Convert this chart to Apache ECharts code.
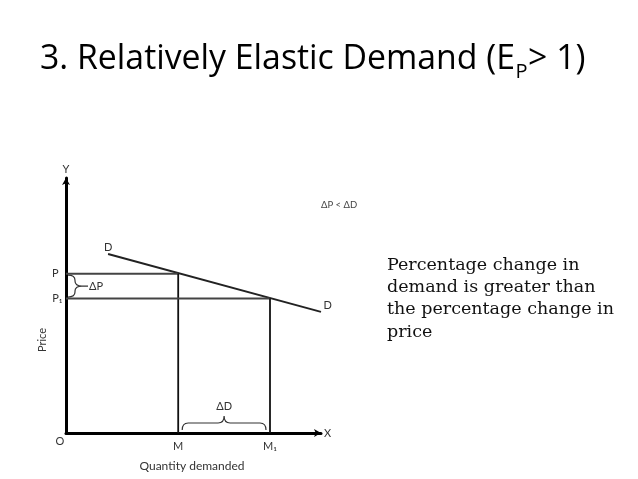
<!DOCTYPE html>
<html><head><meta charset="utf-8">
<script src="https://cdn.jsdelivr.net/npm/echarts@6/dist/echarts.min.js"></script>
<style>html,body{margin:0;padding:0;background:#fff}#c{width:638px;height:479px}</style>
</head><body><div id="c"></div>
<script>
// ---- data ----
const priceLabels = ['P', 'P\u2081'];
const prices = [62.5, 52.7];
const qtyLabels = ['M', 'M\u2081'];
const quantities = [44, 80];
const demandQ = [16.5, 100];
const demandP = [70.2, 47.5];
const demandLabels = ['D', 'D'];
const titleParts = ['3. Relatively Elastic Demand (E', 'P', '> 1)'];
const noteLines = ['Percentage change in', 'demand is greater than', 'the percentage change in', 'price'];

const chart = echarts.init(document.getElementById('c'), null, {renderer: 'canvas'});
const F = 'Lato, "DejaVu Sans", sans-serif';
const TF = '"Open Sans", Lato, sans-serif';
const TXT = '#333';

function lbl(text, position, distance, offset) {
  return {show: true, formatter: text, position: position, distance: distance, offset: offset || [0, 0],
          color: TXT, fontFamily: F, fontSize: 11};
}
const hidden = {symbol: 'circle', symbolSize: 1, itemStyle: {color: 'transparent'}, silent: true};

const series = [];
series.push(Object.assign({
  type: 'line', name: 'demand',
  data: demandQ.map((q, i) => ({value: [q, demandP[i]],
    label: i === 0 ? lbl(demandLabels[i], 'top', 1) : lbl(demandLabels[i], 'right', 2, [0, -6])})),
  lineStyle: {color: '#222', width: 2}
}, hidden));
prices.forEach((p, i) => {
  series.push(Object.assign({
    type: 'line', name: 'price' + i,
    data: [{value: [0, p], label: lbl(priceLabels[i], 'left', i === 0 ? 7 : 3)}, {value: [quantities[i], p]}],
    lineStyle: {color: '#444', width: 2}
  }, hidden));
  series.push(Object.assign({
    type: 'line', name: 'qty' + i,
    data: [{value: [quantities[i], 0], label: lbl(qtyLabels[i], 'bottom', 7)}, {value: [quantities[i], p]}],
    lineStyle: {color: '#111', width: 1.8}
  }, hidden));
});

// braces for ΔP and ΔD
series.push({
  type: 'custom', name: 'braces', silent: true,
  data: [[0], [1]],
  renderItem: function (params, api) {
    const st = {stroke: '#333', fill: null, lineWidth: 1.2};
    if (params.dataIndex === 0) {
      const a = api.coord([quantities[0], 0]), b = api.coord([quantities[1], 0]);
      const x0 = a[0] + 4, x1 = b[0] - 4, yb = a[1] - 3, h = 14, m = (x0 + x1) / 2, yh = yb - h / 2;
      const d = `M${x0} ${yb} Q${x0} ${yh} ${x0 + 6} ${yh} L${m - 6} ${yh} Q${m} ${yh} ${m} ${yb - h} ` +
                `Q${m} ${yh} ${m + 6} ${yh} L${x1 - 6} ${yh} Q${x1} ${yh} ${x1} ${yb}`;
      return {type: 'group', children: [
        {type: 'path', shape: {pathData: d}, style: st},
        {type: 'text', style: {text: '\u0394D', x: m, y: yb - h - 4, align: 'center', verticalAlign: 'bottom',
          font: '11px ' + F, fill: TXT}}
      ]};
    } else {
      const a = api.coord([0, prices[0]]), b = api.coord([0, prices[1]]);
      const ya = a[1] + 1.5, yb = b[1] - 1.5, x0 = a[0] + 2, w = 14, xh = x0 + w / 2, m = (ya + yb) / 2;
      const d = `M${x0} ${ya} Q${xh} ${ya} ${xh} ${ya + 5} L${xh} ${m - 5} Q${xh} ${m} ${x0 + w} ${m} ` +
                `Q${xh} ${m} ${xh} ${m + 5} L${xh} ${yb - 5} Q${xh} ${yb} ${x0} ${yb} M${x0 + w} ${m} L${x0 + w + 6} ${m}`;
      return {type: 'group', children: [
        {type: 'path', shape: {pathData: d}, style: st},
        {type: 'text', style: {text: '\u0394P', x: x0 + w + 7, y: m, align: 'left', verticalAlign: 'middle',
          font: '11px ' + F, fill: TXT}}
      ]};
    }
  }
});

const axisCommon = {
  type: 'value', min: 0, max: 100,
  axisLine: {show: true, onZero: false, symbol: ['none', 'arrow'], symbolSize: [6, 7],
             lineStyle: {color: '#000', width: 3}},
  axisTick: {show: false}, axisLabel: {show: false}, splitLine: {show: false},
  nameLocation: 'end', nameGap: 3, nameTextStyle: {color: TXT, fontFamily: F, fontSize: 11}
};

// title: main text + subscript, placed side by side using measured widths
const mainFont = '33.8px ' + TF, subFont = '20px ' + TF;
const mctx = document.createElement('canvas').getContext('2d');
mctx.font = mainFont; const w1 = mctx.measureText(titleParts[0]).width;
mctx.font = subFont; const w2 = mctx.measureText(titleParts[1]).width;
const tx = 40, mainY = 59.3, subY = 72;

chart.setOption({
  animation: false,
  backgroundColor: '#fff',
  grid: {left: 66, right: 317, top: 178, bottom: 46},
  xAxis: Object.assign({}, axisCommon, {name: 'X'}),
  yAxis: Object.assign({}, axisCommon, {name: 'Y'}),
  series: series,
  graphic: [
    {type: 'text', x: tx, y: mainY, style: {text: titleParts[0], font: mainFont, fill: '#000', align: 'left', verticalAlign: 'middle'}},
    {type: 'text', x: tx + w1 + 0.5, y: subY, style: {text: titleParts[1], font: subFont, fill: '#000', align: 'left', verticalAlign: 'middle'}},
    {type: 'text', x: tx + w1 + w2 + 1, y: mainY, style: {text: titleParts[2], font: mainFont, fill: '#000', align: 'left', verticalAlign: 'middle'}},
    {type: 'text', x: 192, y: 466, style: {text: 'Quantity demanded', font: '12px ' + F, fill: TXT, align: 'center', verticalAlign: 'middle'}},
    {type: 'text', x: 42, y: 340, rotation: Math.PI / 2, style: {text: 'Price', font: '11px ' + F, fill: TXT, align: 'center', verticalAlign: 'middle'}},
    {type: 'text', x: 60, y: 441, style: {text: 'O', font: '11px ' + F, fill: TXT, align: 'center', verticalAlign: 'middle'}},
    {type: 'text', x: 321, y: 205, style: {text: '\u0394P < \u0394D', font: '9.5px ' + F, fill: '#444', align: 'left', verticalAlign: 'middle'}},
    {type: 'text', x: 387, y: 254, style: {text: noteLines.join('\n'), font: '17.5px "DejaVu Serif", serif', lineHeight: 22.3, fill: '#111', align: 'left', verticalAlign: 'top'}}
  ]
});
</script></body></html>
